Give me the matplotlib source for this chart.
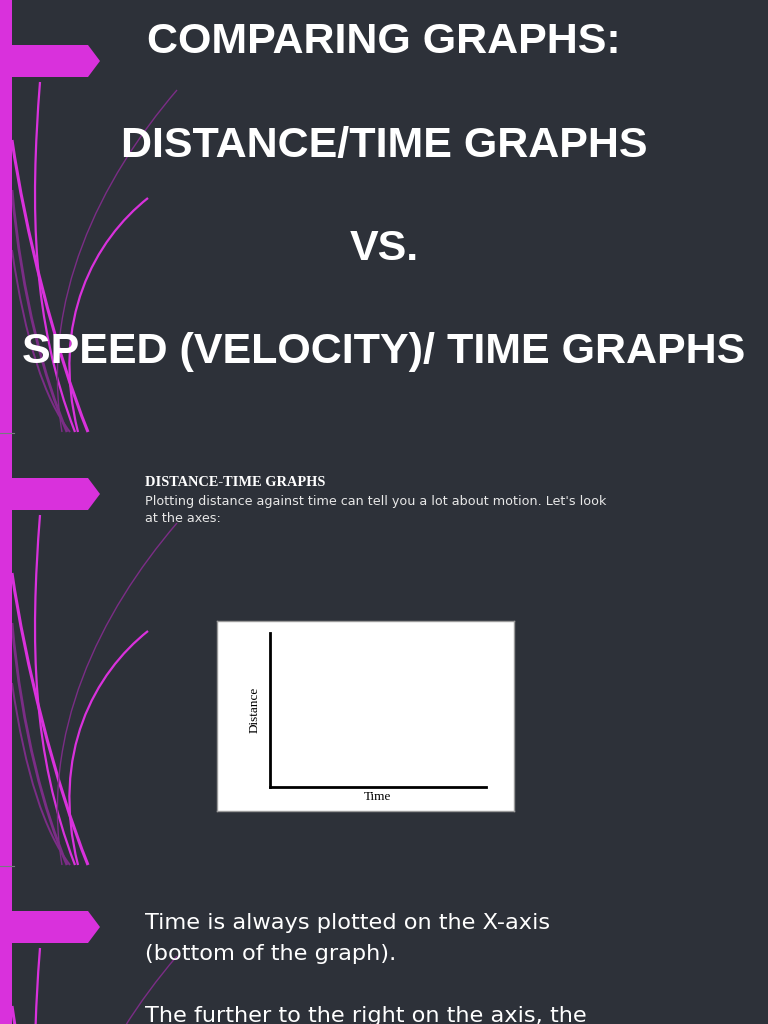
import matplotlib
matplotlib.use("Agg")
import matplotlib.pyplot as plt
from matplotlib.path import Path
from matplotlib.patches import PathPatch, Polygon, Rectangle

# slide texts
title_lines = ["COMPARING GRAPHS:", "DISTANCE/TIME GRAPHS", "VS.", "SPEED (VELOCITY)/ TIME GRAPHS"]
sub_heading = "DISTANCE-TIME GRAPHS"
sub_lines = ["Plotting distance against time can tell you a lot about motion. Let's look",
             "at the axes:"]
body_lines = ["Time is always plotted on the X-axis", "(bottom of the graph).", "",
              "The further to the right on the axis, the"]
x_label = "Time"
y_label = "Distance"

BG = "#2d3139"
MAG = "#d931dc"
DARK = "#7b2d86"
SLIDE_H = 433

fig = plt.figure(figsize=(7.68, 10.24), dpi=100)
fig.patch.set_facecolor(BG)

# page overlay in pixel units (y down)
page = fig.add_axes([0, 0, 1, 1])
page.set_xlim(0, 768)
page.set_ylim(1024, 0)
page.axis("off")

# decorative curves (cubic bezier, relative to slide top)
curves = [
    ([(40, 82), (30, 210), (32, 320), (75, 432)], MAG, 1.6),
    ([(12, 140), (25, 230), (55, 350), (88, 432)], MAG, 2.2),
    ([(148, 198), (95, 240), (50, 320), (78, 432)], MAG, 1.6),
    ([(177, 90), (100, 180), (40, 300), (62, 432)], DARK, 1.0),
    ([(12, 190), (22, 300), (45, 380), (67, 432)], DARK, 2.0),
    ([(12, 250), (25, 340), (45, 400), (70, 432)], DARK, 1.4),
]

for k in range(3):
    top = k * SLIDE_H
    # curves
    for pts, col, lw in curves:
        verts = [(x, y + top) for x, y in pts]
        p = Path(verts, [Path.MOVETO, Path.CURVE4, Path.CURVE4, Path.CURVE4])
        page.add_patch(PathPatch(p, fc="none", ec=col, lw=lw, capstyle="butt"))
    # vertical bar
    page.add_patch(Rectangle((0, top), 12, SLIDE_H, fc=MAG, ec="none"))
    # arrow tag
    page.add_patch(Polygon([(0, top + 45), (88, top + 45), (100, top + 61),
                            (88, top + 77), (0, top + 77)], closed=True, fc=MAG, ec="none"))
    # slide separator
    if k > 0:
        page.plot([0, 14], [top, top], color="#777a80", lw=0.8)

# slide 1 titles
title_y = [42, 146, 249, 352]
for s, y in zip(title_lines, title_y):
    page.text(384, y, s, color="white", fontsize=31, fontweight="bold",
              family="Liberation Sans", ha="center", va="center")

# slide 2 text
page.text(145, 483, sub_heading, color="white", fontsize=10.4, fontweight="bold",
          family="Liberation Serif", ha="left", va="center")
for i, s in enumerate(sub_lines):
    page.text(145, 501 + i * 18, s, color="#e8e8e8", fontsize=9.2,
              family="DejaVu Sans", ha="left", va="center")

# slide 3 text
for i, s in enumerate(body_lines):
    page.text(145, 923 + i * 31, s, color="white", fontsize=16.2,
              family="DejaVu Sans", ha="left", va="center")

# white picture box
box = fig.add_axes([217 / 768, (1024 - 811) / 1024, 297 / 768, 190 / 1024])
box.set_facecolor("white")
box.set_xticks([])
box.set_yticks([])
for sp in box.spines.values():
    sp.set_color("#9a9a9a")
    sp.set_linewidth(1)

# the empty distance-time axes
ax = fig.add_axes([270 / 768, (1024 - 787) / 1024, 216 / 768, 154 / 1024])
ax.set_facecolor("none")
ax.spines["top"].set_visible(False)
ax.spines["right"].set_visible(False)
ax.spines["left"].set_linewidth(2)
ax.spines["bottom"].set_linewidth(2)
ax.set_xticks([])
ax.set_yticks([])
ax.set_xlabel(x_label, family="Liberation Serif", fontsize=9.5, labelpad=3)
ax.set_ylabel(y_label, family="Liberation Serif", fontsize=9.5, labelpad=7)

fig.savefig("out.png", dpi=100, facecolor=BG)
